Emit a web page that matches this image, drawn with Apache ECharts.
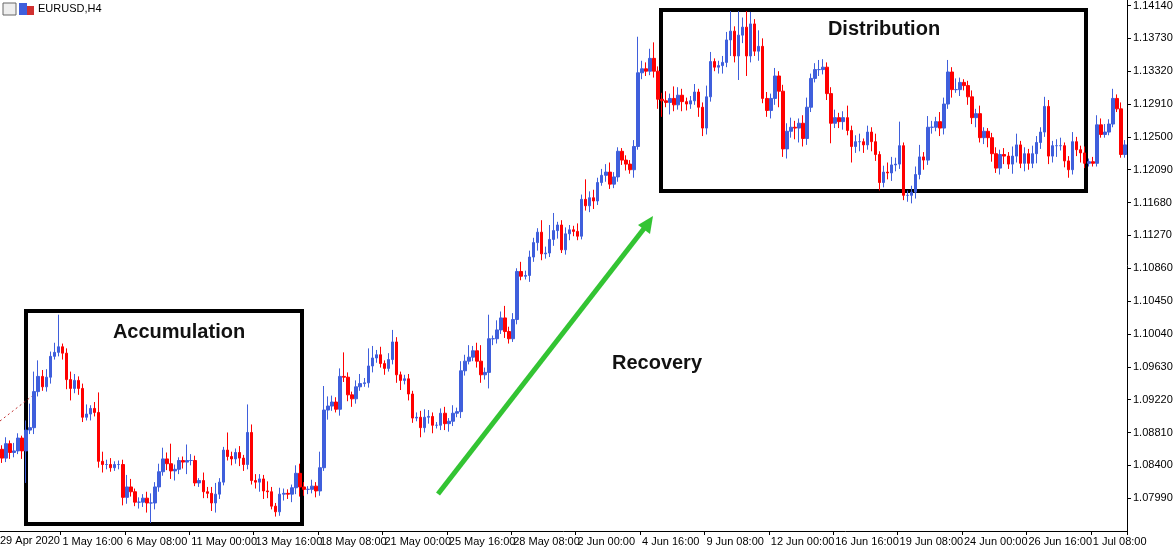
<!DOCTYPE html>
<html><head><meta charset="utf-8">
<script src="https://cdn.jsdelivr.net/npm/echarts@6/dist/echarts.min.js"></script>
<style>html,body{margin:0;padding:0;background:#fff}#c{width:1176px;height:553px}</style>
</head><body><div id="c"></div>
<script>
const closes = [
1.0849,1.0867,1.0856,1.0858,1.0874,1.0858,1.0884,1.0887,1.0932,1.0951,1.0938,1.0950,1.0976,1.0981,1.0988,1.0980,1.0947,1.0936,1.0946,1.0936,
1.0900,1.0904,1.0911,1.0906,1.0845,1.0841,1.0841,1.0837,1.0841,1.0841,1.0800,1.0813,1.0807,1.0794,1.0794,1.0799,1.0793,1.0793,1.0813,1.0832,
1.0848,1.0842,1.0833,1.0835,1.0846,1.0844,1.0846,1.0846,1.0818,1.0821,1.0807,1.0805,1.0793,1.0804,1.0819,1.0859,1.0851,1.0848,1.0856,1.0849,
1.0841,1.0881,1.0821,1.0819,1.0823,1.0808,1.0807,1.0789,1.0782,1.0804,1.0805,1.0804,1.0812,1.0830,1.0813,
1.0810,1.0810,1.0814,1.0808,1.0837,1.0909,1.0914,1.0919,1.0910,1.0951,1.0950,1.0928,1.0923,1.0938,1.0942,1.0943,1.0964,1.0974,1.0978,1.0967,
1.0961,1.0972,1.0994,1.0953,1.0946,1.0948,1.0929,1.0899,1.0900,1.0887,1.0900,1.0901,1.0890,1.0890,1.0905,1.0892,1.0895,1.0905,1.0907,1.0958,
1.0970,1.0975,1.0983,1.0970,1.0953,1.0956,1.0998,1.0998,1.1009,1.1024,1.1007,1.0998,1.1022,1.1082,1.1076,1.1077,1.1100,1.1118,1.1131,1.1104,
1.1105,1.1122,1.1133,1.1140,1.1109,1.1129,1.1134,1.1132,1.1126,1.1172,1.1164,1.1174,1.1170,1.1193,1.1202,1.1206,1.1191,1.1200,
1.1232,
1.1221,1.1216,1.1209,1.1238,1.1330,1.1335,1.1332,1.1348,1.1332,1.1297,1.1295,1.1293,1.1298,1.1290,1.1302,1.1294,1.1291,1.1295,1.1306,1.1287,
1.1261,1.1300,1.1344,1.1337,1.1339,1.1343,1.1371,1.1382,1.1351,1.1377,1.1387,1.1351,1.1391,1.1357,1.1363,1.1298,1.1283,1.1298,1.1326,1.1307,
1.1235,1.1257,1.1262,1.1261,1.1267,1.1248,1.1287,1.1323,1.1334,1.1334,1.1337,1.1304,1.1267,1.1274,1.1269,1.1274,1.1258,1.1238,1.1244,1.1244,
1.1240,1.1256,1.1244,1.1228,1.1193,1.1206,1.1205,1.1215,1.1216,1.1239,1.1177,1.1177,1.1181,1.1203,1.1225,1.1221,1.1262,1.1262,1.1269,1.1261,
1.1291,1.1331,1.1309,1.1309,1.1318,1.1314,1.1300,1.1274,1.1279,1.1249,1.1257,1.1249,1.1229,1.1211,1.1228,1.1226,1.1216,1.1226,1.1240,1.1217,
1.1229,1.1217,1.1229,1.1243,1.1256,1.1288,1.1226,1.1239,1.1239,1.1239,1.1220,1.1209,1.1244,1.1234,1.1230,1.1217,1.1219,1.1217,1.1265,1.1253,
1.1256,1.1266,1.1298,1.1285,1.1228,1.1240
];
const firstOpen = 1.0860;
const upWickPips = [
5,8,4,10,6,3,12,30,25,20,8,10,6,12,40,4,6,10,8,5,6,12,4,8,25,12,6,8,4,5,6,15,10,4,6,5,8,12,6,10,
14,8,25,6,4,5,20,8,6,3,10,6,8,14,5,4,22,6,5,8,4,35,10,8,6,5,12,6,4,8,6,5,4,10,12,
6,4,8,5,20,30,12,8,6,10,30,6,4,8,12,6,22,15,6,10,4,8,15,6,4,5,6,4,6,8,10,8,5,4,6,8,4,10,5,12,
8,15,6,10,20,6,30,4,12,8,15,6,8,4,12,6,8,6,5,15,8,18,22,4,6,8,6,5,10,6,25,8,10,6,8,10,12,6,
5,
4,6,5,8,45,10,8,12,20,6,8,12,6,15,10,8,5,6,10,4,6,14,12,4,6,8,10,25,6,30,12,20,15,6,20,10,8,6,10,6,
8,10,12,8,6,10,12,6,8,12,10,6,8,10,6,8,15,6,8,10,4,8,6,10,4,8,12,10,8,30,4,6,8,10,15,6,14,8,6,12,
8,15,6,14,6,4,6,8,6,10,5,4,6,8,6,8,5,12,14,5,8,6,10,8,6,12,8,6,8,10,4,6,12,6,5,8,4,6,12,8,10,6,12,5,8,6
];
const downWickPips = [
6,5,8,6,4,10,40,5,8,6,5,6,8,4,5,8,12,15,6,8,6,4,8,5,8,10,6,5,4,6,10,8,6,5,8,6,12,25,8,6,
5,8,10,12,6,8,15,6,4,5,8,6,10,12,6,4,5,8,6,10,8,6,5,8,12,10,8,4,6,5,8,6,10,8,12,
8,6,5,8,6,4,12,6,4,8,6,8,10,6,5,4,6,8,6,5,8,4,6,10,12,5,8,6,4,12,6,8,10,4,6,8,10,6,5,8,
6,4,5,8,10,6,20,8,6,5,8,6,4,6,5,4,8,6,10,8,6,5,8,10,4,6,8,6,5,4,6,8,10,5,4,8,6,5,
6,
6,8,5,10,4,8,6,5,8,12,20,6,15,8,6,12,8,6,5,12,10,8,6,5,8,10,6,20,8,30,10,25,8,6,12,6,8,10,8,20,
10,12,8,14,18,10,8,6,5,8,6,8,25,6,8,10,6,20,8,12,10,6,12,8,10,6,8,10,8,6,6,8,10,8,6,12,6,8,5,10,
8,6,10,4,8,6,10,8,12,6,8,12,10,6,8,10,6,12,8,6,10,8,6,12,8,6,10,8,14,6,8,10,6,8,12,6
];
const tickLabels = ["29 Apr 2020","1 May 16:00","6 May 08:00","11 May 00:00","13 May 16:00","18 May 08:00","21 May 00:00","25 May 16:00","28 May 08:00","2 Jun 00:00","4 Jun 16:00","9 Jun 08:00","12 Jun 00:00","16 Jun 16:00","19 Jun 08:00","24 Jun 00:00","26 Jun 16:00","1 Jul 08:00"];
const priceTicks = {min:1.0758, max:1.14208, step:0.0041};

const n = closes.length;
const cats = [];
for (let i=0;i<n;i++){
  let lab='';
  if (i>=15 && (i-15)%16===0) lab=tickLabels[1+(i-15)/16]||'';
  cats.push(lab);
}
const ohlc = closes.map((c,i)=>{
  const o = i===0?firstOpen:closes[i-1];
  const u = (upWickPips[i]||4)*0.0001, d=(downWickPips[i]||4)*0.0001;
  return [o,c,Math.min(o,c)-d,Math.max(o,c)+u];
});
const chart = echarts.init(document.getElementById('c'));
const BLUE='#3f5fdc', RED='#ff0000';
const FONT='"Liberation Sans", Arial';
chart.setOption({
  animation:false,
  grid:{left:0,right:49,top:0,bottom:22},
  xAxis:{type:'category',data:cats,boundaryGap:true,
    axisLine:{lineStyle:{color:'#000'}},
    axisTick:{show:true,interval:(i,v)=>v!=='',length:4,lineStyle:{color:'#000'}},
    axisLabel:{interval:(i,v)=>v!=='',hideOverlap:false,color:'#000',fontFamily:FONT,fontSize:11,align:'left',margin:5}},
  yAxis:{type:'value',position:'right',min:priceTicks.min,max:priceTicks.max,interval:priceTicks.step,
    splitLine:{show:false},axisLine:{show:true,lineStyle:{color:'#000'}},
    axisTick:{show:true,length:4,lineStyle:{color:'#000'}},
    axisLabel:{color:'#000',fontFamily:FONT,fontSize:11,margin:6,showMaxLabel:false,showMinLabel:false,formatter:v=>v.toFixed(5)}},
  series:[{type:'candlestick',data:ohlc,barWidth:3,
    itemStyle:{color:BLUE,color0:RED,borderColor:BLUE,borderColor0:RED,borderWidth:1}}],
  graphic:[
    {type:'rect',shape:{x:3,y:3,width:13,height:12},style:{fill:'#eee',stroke:'#666'}},
    {type:'rect',shape:{x:19,y:3,width:8,height:12},style:{fill:'#3f5fdc'}},
    {type:'rect',shape:{x:27,y:6,width:7,height:9},style:{fill:'#d03030'}},
    {type:'text',left:38,top:3,style:{text:'EURUSD,H4',font:'11px '+FONT,fill:'#000'}},
    {type:'text',left:0,top:535,style:{text:tickLabels[0],font:'11px '+FONT,fill:'#000'}},
    {type:'rect',shape:{x:26,y:311,width:276,height:213},style:{fill:'none',stroke:'#000',lineWidth:4}},
    {type:'rect',shape:{x:661,y:10,width:425,height:181},style:{fill:'none',stroke:'#000',lineWidth:4}},
    {type:'text',x:179,y:332,style:{text:'Accumulation',font:'bold 20px '+FONT,fill:'#111',align:'center',verticalAlign:'middle'}},
    {type:'text',x:884,y:29,style:{text:'Distribution',font:'bold 20px '+FONT,fill:'#111',align:'center',verticalAlign:'middle'}},
    {type:'text',x:657,y:363,style:{text:'Recovery',font:'bold 20px '+FONT,fill:'#111',align:'center',verticalAlign:'middle'}},
    {type:'line',shape:{x1:438,y1:494,x2:646,y2:226},style:{stroke:'#33c433',lineWidth:5}},
    {type:'polygon',shape:{points:[[653,216],[638,225],[650,234]]},style:{fill:'#33c433'}},
    {type:'line',shape:{x1:0,y1:421,x2:36,y2:393},style:{stroke:'#c03030',lineWidth:1,lineDash:[2,3]}}
  ]
});
</script></body></html>
